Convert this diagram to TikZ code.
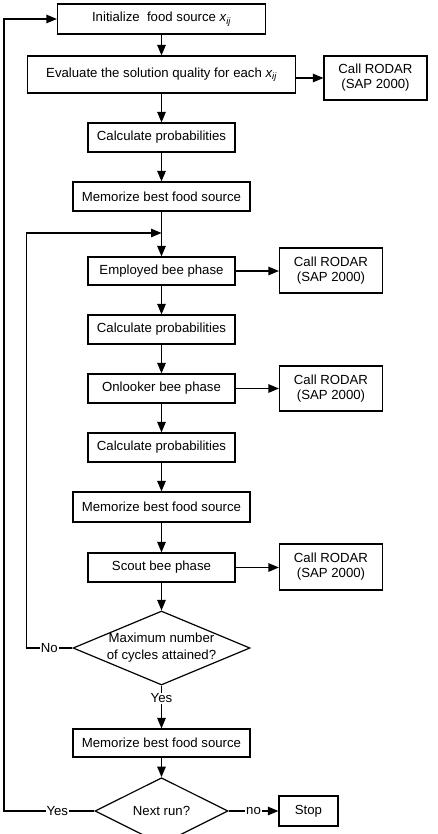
\documentclass[tikz,border=0pt]{standalone}
\usepackage{fontspec}
\setmainfont{Liberation Sans}
\usetikzlibrary{arrows.meta,shapes.geometric}
\begin{document}
\begin{tikzpicture}[x=1pt,y=-1pt,
  every node/.style={font=\fontsize{13.2}{15}\selectfont},
  box/.style={draw,line width=1.2pt,rectangle,inner sep=0pt,align=center},
  dia/.style={draw,line width=1.2pt,diamond,inner sep=0pt,align=center},
  arr/.style={line width=1.2pt,-{Triangle[length=10.5pt,width=8.5pt]}},
  lbl/.style={fill=white,inner sep=1pt}]
\useasboundingbox (0,0) rectangle (437,834);
\node[box,minimum width=208pt,minimum height=30pt] (init) at (161.5,19) {Initialize\ \ food source {\itshape x\textsubscript{ij}}};
\node[box,minimum width=268pt,minimum height=37pt] (eval) at (161.5,74.5) {Evaluate the solution quality for each {\itshape x\textsubscript{ij}}};
\node[box,minimum width=103pt,minimum height=44pt] (r1) at (375.5,78) {Call RODAR\\(SAP 2000)};
\node[box,minimum width=147pt,minimum height=29pt] (c1) at (161.5,137.5) {Calculate probabilities};
\node[box,minimum width=177pt,minimum height=29pt] (m1) at (161.5,196.5) {Memorize best food source};
\coordinate (j1) at (161.5,233);
\node[box,minimum width=147pt,minimum height=28pt] (emp) at (161.5,271) {Employed bee phase};
\node[box,minimum width=103pt,minimum height=45pt] (r2) at (331,270.5) {Call RODAR\\(SAP 2000)};
\node[box,minimum width=147pt,minimum height=29pt] (c2) at (161.5,329.5) {Calculate probabilities};
\node[box,minimum width=147pt,minimum height=29pt] (onl) at (161.5,388.5) {Onlooker bee phase};
\node[box,minimum width=103pt,minimum height=45pt] (r3) at (331,388.5) {Call RODAR\\(SAP 2000)};
\node[box,minimum width=147pt,minimum height=29pt] (c3) at (161.5,447.5) {Calculate probabilities};
\node[box,minimum width=177pt,minimum height=30pt] (m2) at (161.5,507) {Memorize best food source};
\node[box,minimum width=147pt,minimum height=29pt] (sc) at (161.5,567.5) {Scout bee phase};
\node[box,minimum width=103pt,minimum height=46pt] (r4) at (331,567) {Call RODAR\\(SAP 2000)};
\node[dia,minimum width=177pt,minimum height=74pt] (d1) at (161.5,648) {\smash{\makebox[0pt]{\raisebox{-11pt}{\begin{tabular}[b]{@{}c@{}}Maximum number\\[2pt]of cycles attained?\end{tabular}}}}};
\node[box,minimum width=177pt,minimum height=28pt] (m3) at (161.5,743) {Memorize best food source};
\node[dia,minimum width=133pt,minimum height=44pt] (d2) at (161.5,811) {Next run?};
\node[box,minimum width=59pt,minimum height=30pt] (stop) at (308.5,811) {Stop};

\draw[arr] (init) -- (eval);
\draw[arr] (eval.east |- r1) -- (r1.west);
\draw[arr] (eval) -- (c1);
\draw[arr] (c1) -- (m1);
\draw[arr] (m1) -- (emp);
\draw[arr] (emp.east) -- (emp.east -| r2.west);
\draw[arr] (emp) -- (c2);
\draw[arr] (c2) -- (onl);
\draw[arr] (onl.east) -- (onl.east -| r3.west);
\draw[arr] (onl) -- (c3);
\draw[arr] (c3) -- (m2);
\draw[arr] (m2) -- (sc);
\draw[arr] (sc.east) -- (sc.east -| r4.west);
\draw[arr] (sc) -- (d1);
\draw[arr] (d1.south) -- node[lbl,pos=0.3]{Yes} (m3.north);
\draw[arr] (m3) -- (d2);
\draw[arr] (d2.east) -- node[lbl]{no} (stop.west);
\draw[arr] (d1.west) -- node[lbl]{No} ++(-46,0) |- (j1);
\draw[arr] (d2.west) -- node[lbl,pos=0.41]{Yes} ++(-90.5,0) |- (init.west);
\end{tikzpicture}
\end{document}
